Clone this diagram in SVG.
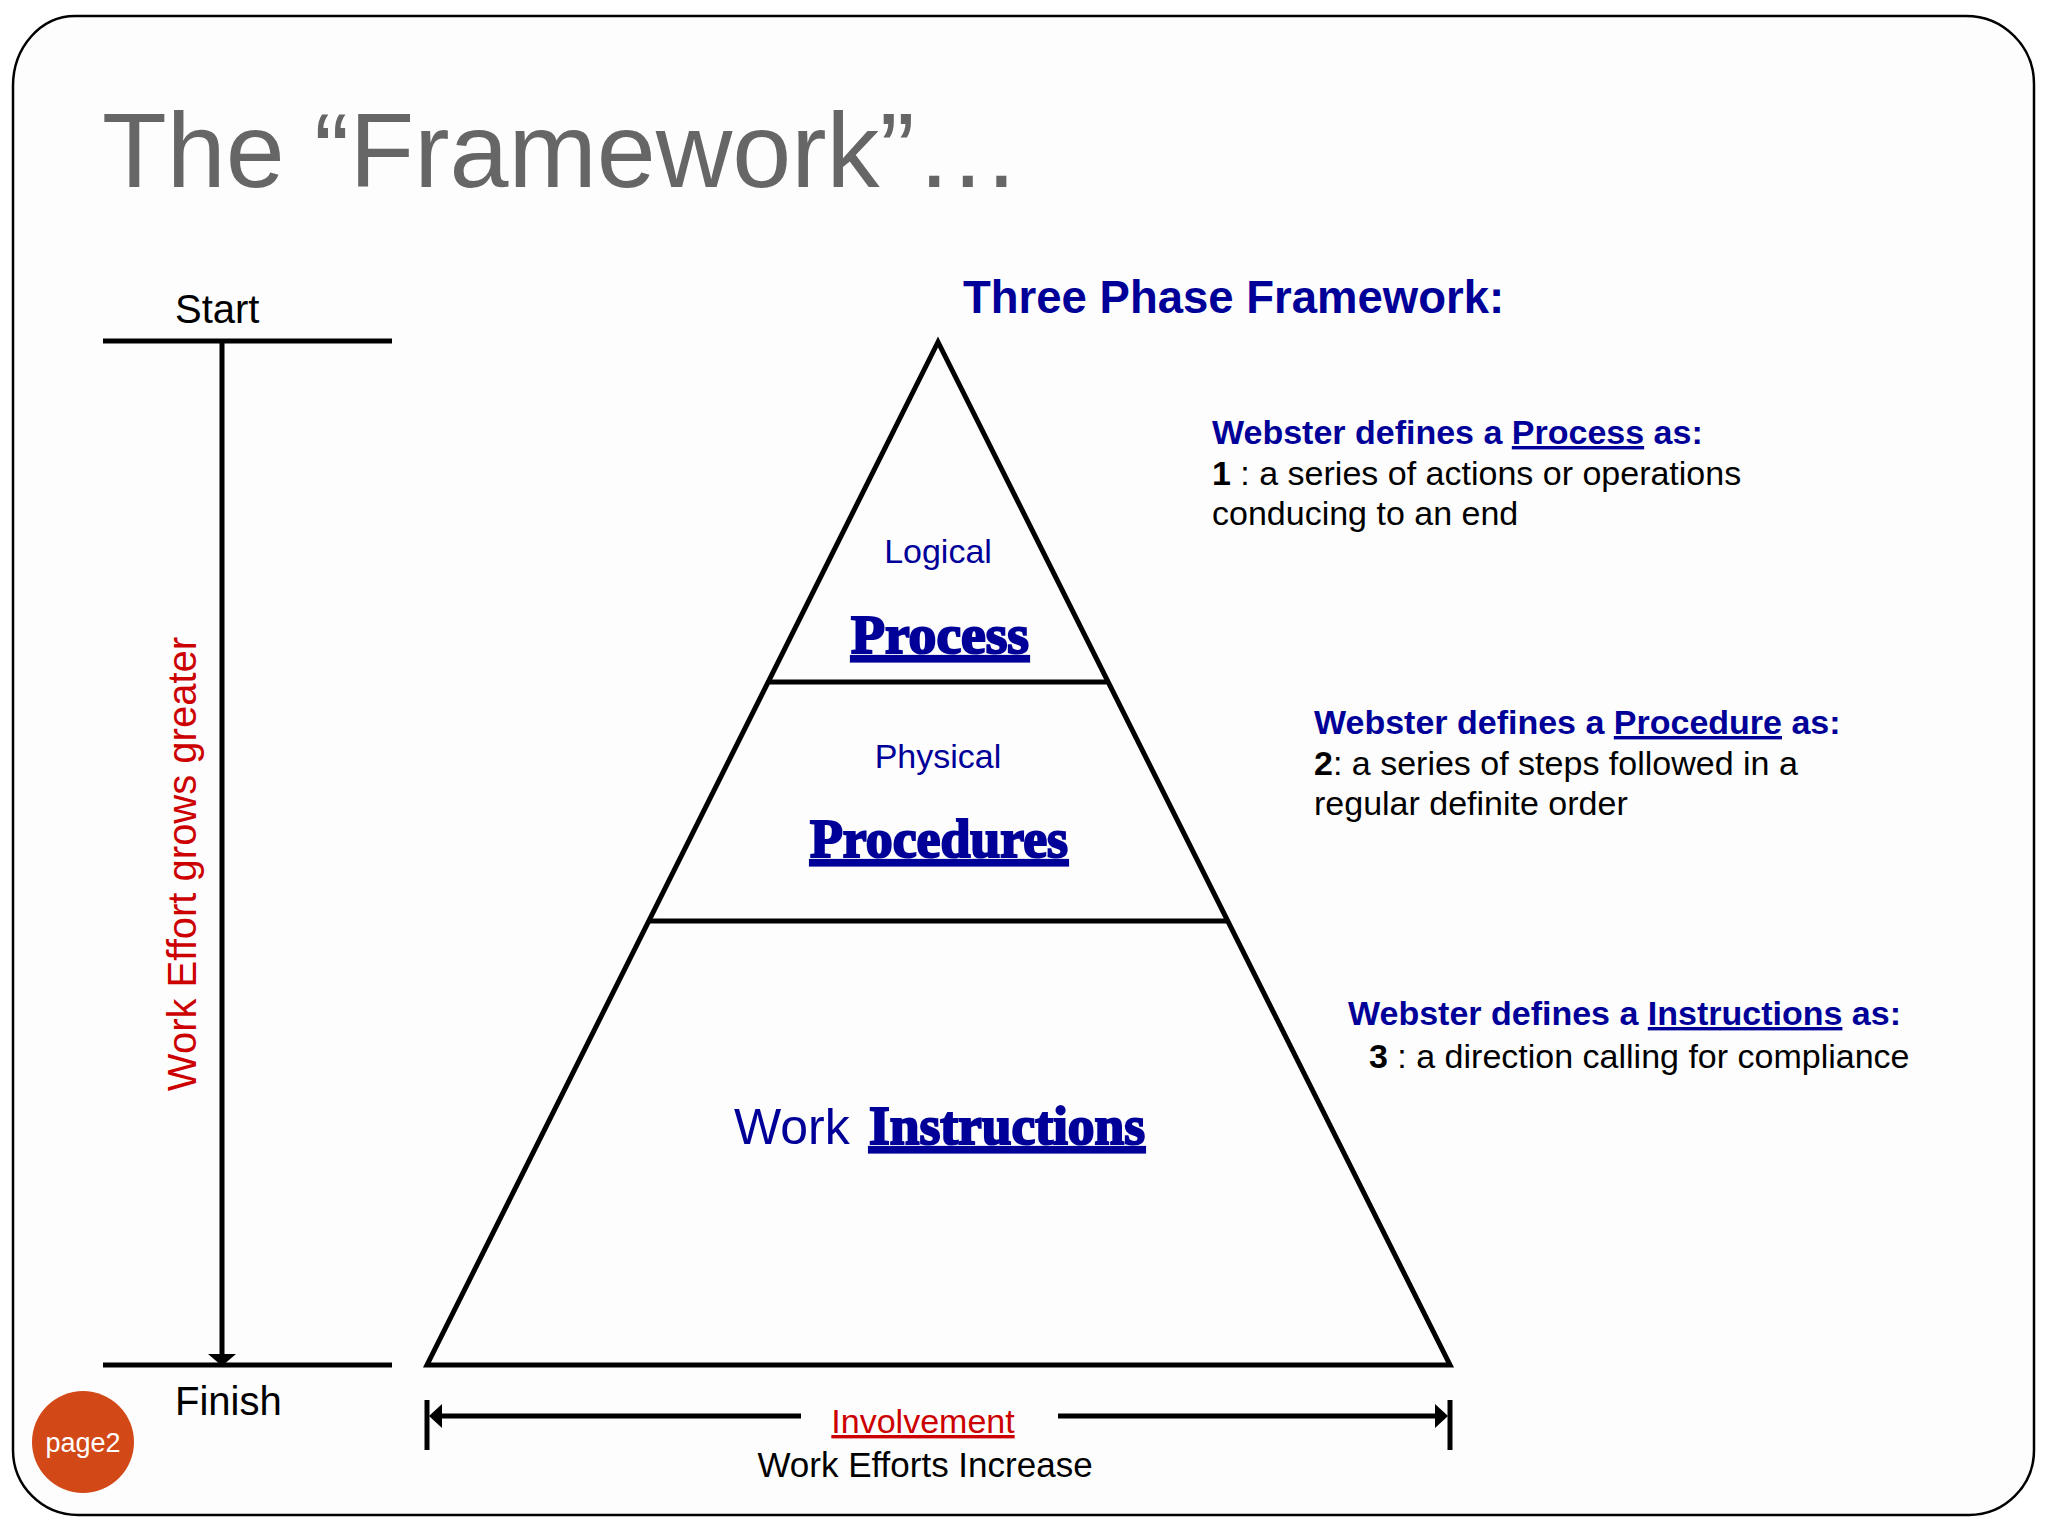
<svg xmlns="http://www.w3.org/2000/svg" width="2048" height="1536" viewBox="0 0 2048 1536">
<style>
.sans{font-family:"Liberation Sans",Arial,sans-serif}
.fat{font-family:"Liberation Serif","Times New Roman",serif;font-weight:900;fill:#000099;stroke:#000099;stroke-width:2.2;text-decoration:underline}
.navy{fill:#000099}
.blk{fill:#000000}
.red{fill:#CC0000}
.ln{stroke:#000;stroke-width:5;fill:none}
.u{text-decoration:underline}
</style>
<defs>
<marker id="ahDown" viewBox="0 0 12 28" markerWidth="12" markerHeight="28" refX="0" refY="14" orient="auto" markerUnits="userSpaceOnUse">
<path d="M0,0 L12,14 L0,28 Z" fill="#000"/>
</marker>
</defs>
<rect width="2048" height="1536" fill="#ffffff"/>
<path id="frame" d="M75,16 H1966 A68,68 0 0 1 2034,84 V1450 A65,65 0 0 1 1969,1515 H78 A65,65 0 0 1 13,1450 V86 A62,70 0 0 1 75,16 Z" fill="#fdfdfd" stroke="#000" stroke-width="2.5"/>

<g id="title">
<text class="sans" x="102" y="187" font-size="106" fill="#666666">The “Framework”…</text>
</g>

<g id="heading">
<text class="sans navy" x="963" y="313" font-size="45.5" font-weight="bold">Three Phase Framework:</text>
</g>

<g id="start-marker">
<line class="ln" x1="103" y1="341" x2="392" y2="341"/>
<text class="sans blk" x="175" y="323" font-size="40">Start</text>
</g>

<g id="finish-marker">
<line class="ln" x1="103" y1="1365" x2="392" y2="1365"/>
<text class="sans blk" x="175" y="1415" font-size="40">Finish</text>
</g>

<g id="effort-label">
<text class="sans red" transform="translate(196,864) rotate(-90)" text-anchor="middle" font-size="40">Work Effort grows greater</text>
</g>

<g id="pyramid">
<polygon class="ln" points="938,342 427,1365 1450,1365" stroke-linejoin="miter"/>
</g>

<g id="tier-process">
<line class="ln" x1="768" y1="682" x2="1108" y2="682"/>
<text class="sans navy" x="938" y="563" font-size="34" text-anchor="middle">Logical</text>
<text class="fat" x="851" y="653" font-size="55" textLength="178" lengthAdjust="spacingAndGlyphs">Process</text>
</g>

<g id="tier-procedures">
<line class="ln" x1="649" y1="921" x2="1228" y2="921"/>
<text class="sans navy" x="938" y="768" font-size="34" text-anchor="middle">Physical</text>
<text class="fat" x="810" y="857" font-size="55" textLength="258" lengthAdjust="spacingAndGlyphs">Procedures</text>
</g>

<g id="tier-instructions">
<text class="sans navy" x="734" y="1144" font-size="50">Work</text>
<text class="fat" x="869" y="1144" font-size="55" textLength="276" lengthAdjust="spacingAndGlyphs">Instructions</text>
</g>

<g id="def-process">
<text class="sans navy" x="1212" y="444" font-size="34" font-weight="bold">Webster defines a <tspan class="u">Process</tspan> as:</text>
<text class="sans blk" x="1212" y="485" font-size="34"><tspan font-weight="bold">1</tspan> : a series of actions or operations</text>
<text class="sans blk" x="1212" y="525" font-size="34">conducing to an end</text>
</g>

<g id="def-procedure">
<text class="sans navy" x="1314" y="734" font-size="34" font-weight="bold">Webster defines a <tspan class="u">Procedure</tspan> as:</text>
<text class="sans blk" x="1314" y="775" font-size="34"><tspan font-weight="bold">2</tspan>: a series of steps followed in a</text>
<text class="sans blk" x="1314" y="815" font-size="34">regular definite order</text>
</g>

<g id="def-instructions">
<text class="sans navy" x="1348" y="1025" font-size="34" font-weight="bold">Webster defines a <tspan class="u">Instructions</tspan> as:</text>
<text class="sans blk" x="1369" y="1068" font-size="34"><tspan font-weight="bold">3</tspan> : a direction calling for compliance</text>
</g>

<g id="involvement-axis">
<text class="sans red u" x="923" y="1433" font-size="34" text-anchor="middle">Involvement</text>
<text class="sans blk" x="925" y="1477" font-size="35" text-anchor="middle">Work Efforts Increase</text>
</g>

<g id="page-badge">
<circle cx="83" cy="1442" r="51" fill="#D34817"/>
<text class="sans" x="83" y="1452" font-size="27" fill="#ffffff" text-anchor="middle">page2</text>
</g>

<g id="connectors">
<line class="ln" x1="222" y1="343" x2="222" y2="1354" marker-end="url(#ahDown)"/>
<line class="ln" x1="427" y1="1400" x2="427" y2="1450"/>
<line class="ln" x1="1450" y1="1400" x2="1450" y2="1450"/>
<line class="ln" x1="440" y1="1416" x2="801" y2="1416"/>
<line class="ln" x1="1058" y1="1416" x2="1437" y2="1416"/>
<path d="M429,1416 L442,1404 L442,1428 Z" fill="#000"/>
<path d="M1448,1416 L1435,1404 L1435,1428 Z" fill="#000"/>
</g>
</svg>
